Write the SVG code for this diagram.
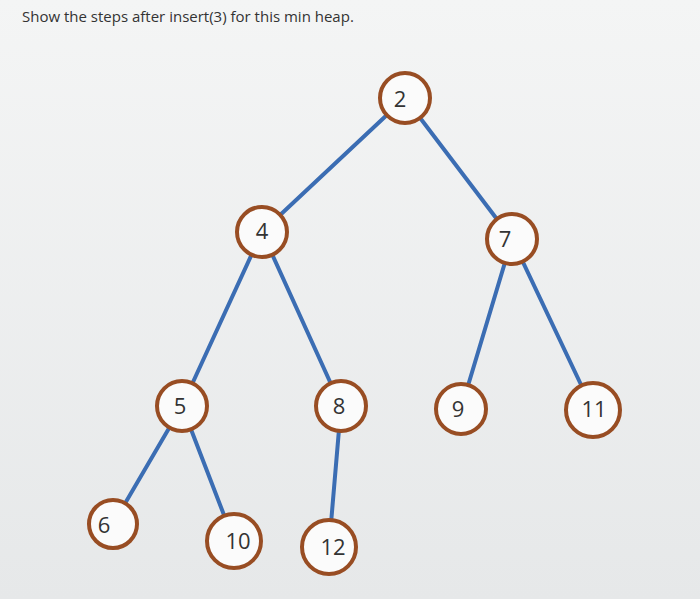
<svg xmlns="http://www.w3.org/2000/svg" width="700" height="599" viewBox="0 0 700 599">
<defs>
<linearGradient id="bg" x1="0" y1="0" x2="0" y2="1">
<stop offset="0" stop-color="#f4f5f5"/><stop offset="1" stop-color="#e6e8e9"/>
</linearGradient>
<style>
.e{stroke:#3b6db3;stroke-width:4;stroke-linecap:round}
.n circle{fill:#fbfbfb;stroke:#984d23;stroke-width:4}
.n text{font-family:"Open Sans","Liberation Sans",sans-serif;font-size:22px;fill:#333;text-anchor:middle;dominant-baseline:central}
</style>
</defs>
<rect width="700" height="599" fill="url(#bg)"/>
<text x="22" y="22" font-family="Open Sans,Liberation Sans,sans-serif" font-size="15" fill="#333">Show the steps after insert(3) for this min heap.</text>
<g id="edges">
<line class="e" x1="405" y1="98" x2="262" y2="232"/>
<line class="e" x1="405" y1="98" x2="512" y2="239"/>
<line class="e" x1="262" y1="232" x2="182" y2="406"/>
<line class="e" x1="262" y1="232" x2="341" y2="406"/>
<line class="e" x1="512" y1="239" x2="461" y2="409"/>
<line class="e" x1="512" y1="239" x2="593" y2="410"/>
<line class="e" x1="182" y1="406" x2="113" y2="524"/>
<line class="e" x1="182" y1="406" x2="234" y2="541"/>
<line class="e" x1="341" y1="406" x2="329" y2="547"/>
</g>
<g id="n2" class="n"><circle cx="405" cy="98" r="25"/><text x="400" y="98">2</text></g>
<g id="n4" class="n"><circle cx="262" cy="232" r="25"/><text x="262" y="230">4</text></g>
<g id="n7" class="n"><circle cx="512" cy="239" r="25"/><text x="505" y="238">7</text></g>
<g id="n5" class="n"><circle cx="182" cy="406" r="25"/><text x="180" y="405">5</text></g>
<g id="n8" class="n"><circle cx="341" cy="406" r="25"/><text x="339" y="405">8</text></g>
<g id="n9" class="n"><circle cx="461" cy="409" r="25"/><text x="458" y="408">9</text></g>
<g id="n11" class="n"><circle cx="593" cy="410" r="27"/><text x="594" y="408">11</text></g>
<g id="n6" class="n"><circle cx="113" cy="524" r="24"/><text x="104" y="524">6</text></g>
<g id="n10" class="n"><circle cx="234" cy="541" r="27"/><text x="238" y="540">10</text></g>
<g id="n12" class="n"><circle cx="329" cy="547" r="27"/><text x="333" y="546">12</text></g>
</svg>
